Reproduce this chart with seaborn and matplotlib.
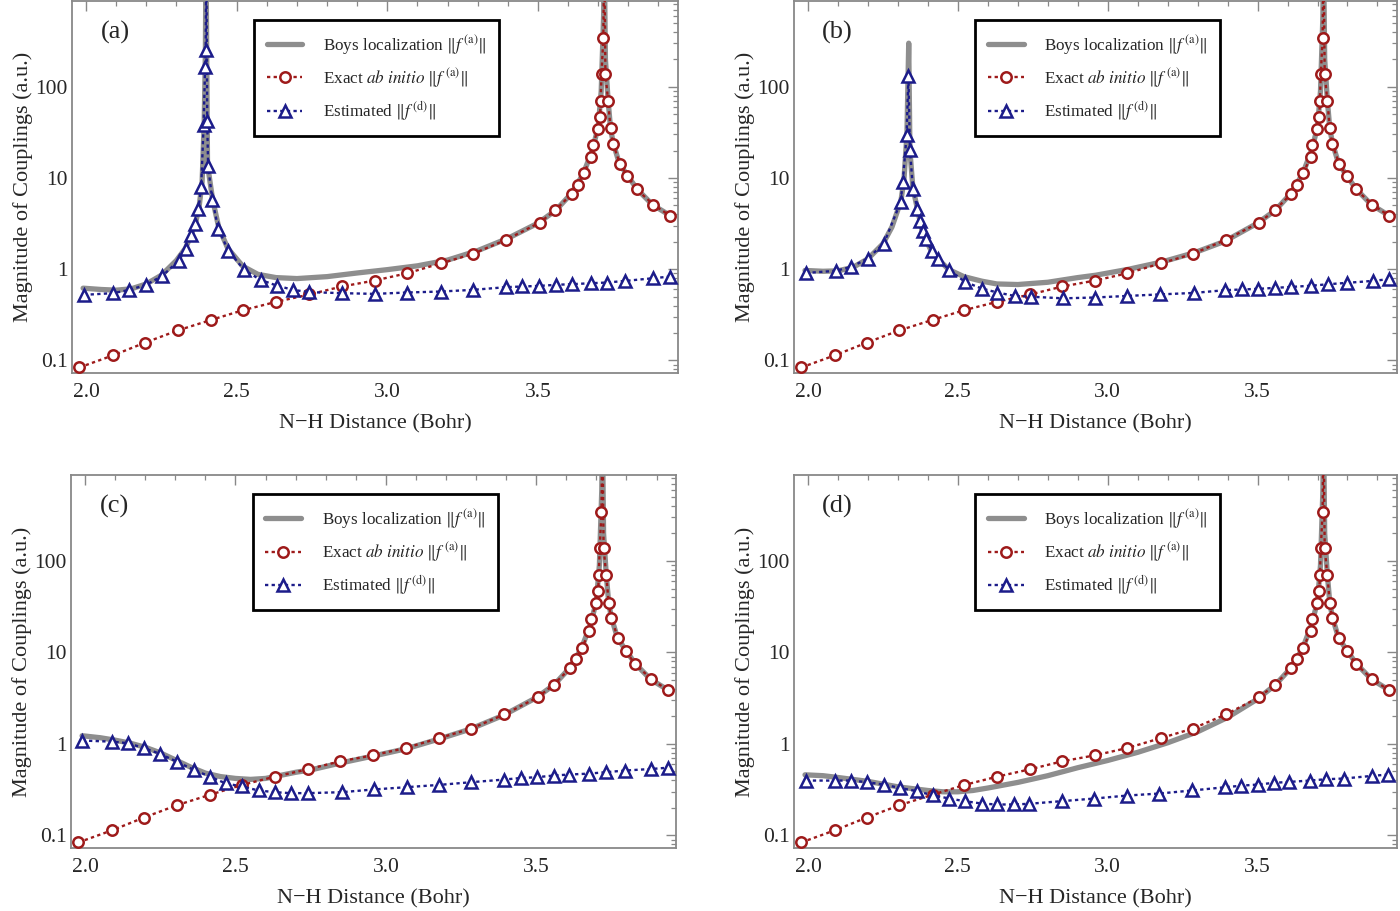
import numpy as np
import pandas as pd
import seaborn as sns
import matplotlib.pyplot as plt
from matplotlib.ticker import MultipleLocator, LogLocator, NullFormatter

# exact ab initio ||f(a)|| (same in every panel)
red_x = [1.978, 2.090, 2.196, 2.305, 2.416, 2.521, 2.632, 2.741, 2.849, 2.958,
         3.066, 3.178, 3.283, 3.394, 3.506, 3.558, 3.613, 3.632, 3.652, 3.677,
         3.683, 3.699, 3.706, 3.708, 3.711, 3.717, 3.720, 3.724, 3.733, 3.741,
         3.749, 3.772, 3.797, 3.828, 3.883, 3.938]
red_y = [0.084, 0.114, 0.157, 0.214, 0.279, 0.356, 0.440, 0.529, 0.647, 0.752,
         0.904, 1.16, 1.47, 2.10, 3.25, 4.45, 6.75, 8.47, 11.2, 17.0,
         23.0, 34.6, 46.5, 69.5, 138, 340, 3000, 138, 69.5, 35,
         23.8, 14.4, 10.5, 7.48, 5.12, 3.86]

# boys localization, right-hand part shared by all panels
gray_tail_x = [3.56, 3.61, 3.65, 3.68, 3.70, 3.71, 3.718, 3.720, 3.724, 3.733,
               3.741, 3.75, 3.77, 3.80, 3.83, 3.88, 3.94]
gray_tail_y = [4.45, 6.7, 11, 20, 36, 90, 600, 3000, 200, 70,
               35, 24, 14.5, 10.3, 7.5, 5.1, 3.85]

# panel (a)
gray_a_x = [1.99, 2.05, 2.10, 2.15, 2.20, 2.25, 2.30, 2.33, 2.35, 2.365, 2.375,
            2.385, 2.392, 2.396, 2.398, 2.403, 2.42, 2.44, 2.47, 2.52, 2.57,
            2.63, 2.70, 2.80, 2.90, 3.00, 3.10, 3.20, 3.30, 3.40, 3.50]
gray_a_y = [0.62, 0.60, 0.59, 0.61, 0.69, 0.86, 1.25, 1.70, 2.45, 3.4, 4.8,
            9.0, 40, 250, 3000, 14, 5.8, 2.9, 1.7, 1.08, 0.88,
            0.81, 0.79, 0.83, 0.91, 0.99, 1.09, 1.26, 1.60, 2.18, 3.2]
blue_a_x = [1.993, 2.090, 2.144, 2.199, 2.253, 2.307, 2.331, 2.349, 2.362, 2.373,
            2.382, 2.390, 2.395, 2.397, 2.399, 2.402, 2.405, 2.419, 2.439, 2.472,
            2.525, 2.579, 2.633, 2.687, 2.741, 2.849, 2.958, 3.066, 3.178, 3.283,
            3.394, 3.448, 3.504, 3.560, 3.612, 3.677, 3.729, 3.789, 3.883, 3.939]
blue_a_y = [0.524, 0.547, 0.594, 0.675, 0.846, 1.24, 1.65, 2.37, 3.13, 4.52,
            8.0, 38, 165, 255, 3000, 42, 13.5, 5.73, 2.76, 1.60,
            0.98, 0.764, 0.662, 0.594, 0.561, 0.547, 0.537, 0.556, 0.570, 0.594,
            0.636, 0.647, 0.657, 0.675, 0.686, 0.703, 0.715, 0.745, 0.797, 0.832]

# panel (b)
gray_b_x = [1.99, 2.05, 2.10, 2.15, 2.20, 2.25, 2.28, 2.31, 2.32, 2.33, 2.336,
            2.34, 2.35, 2.365, 2.38, 2.39, 2.41, 2.435, 2.47, 2.52, 2.58, 2.63,
            2.70, 2.80, 2.90, 2.96, 3.07, 3.18, 3.29, 3.39, 3.50]
gray_b_y = [0.97, 0.95, 0.96, 1.05, 1.30, 1.9, 2.9, 5.6, 9.5, 30, 300,
            20, 7.7, 4.6, 2.7, 2.2, 1.62, 1.28, 0.99, 0.83, 0.74, 0.69,
            0.68, 0.72, 0.81, 0.86, 1.0, 1.2, 1.52, 2.02, 3.2]
blue_b_x = [1.993, 2.092, 2.144, 2.199, 2.253, 2.309, 2.316, 2.329, 2.335, 2.340,
            2.350, 2.365, 2.374, 2.382, 2.393, 2.413, 2.435, 2.471, 2.523, 2.579,
            2.632, 2.689, 2.743, 2.851, 2.957, 3.066, 3.175, 3.287, 3.393, 3.447,
            3.503, 3.558, 3.612, 3.679, 3.735, 3.800, 3.886, 3.940]
blue_b_y = [0.91, 0.96, 1.06, 1.31, 1.91, 5.45, 9.0, 29.6, 132, 20.5,
            7.6, 4.6, 3.35, 2.6, 2.16, 1.57, 1.29, 0.98, 0.73, 0.615,
            0.556, 0.51, 0.50, 0.48, 0.49, 0.51, 0.53, 0.55, 0.59, 0.60,
            0.61, 0.625, 0.64, 0.66, 0.685, 0.71, 0.746, 0.78]

# panel (c)
gray_c_x = [1.99, 2.05, 2.10, 2.15, 2.20, 2.25, 2.30, 2.35, 2.40, 2.45, 2.50,
            2.55, 2.60, 2.63, 2.70, 2.75, 2.85, 2.96, 3.07, 3.18, 3.28, 3.39, 3.50]
gray_c_y = [1.23, 1.17, 1.10, 1.02, 0.92, 0.80, 0.67, 0.56, 0.48, 0.44, 0.42,
            0.41, 0.42, 0.44, 0.49, 0.52, 0.62, 0.74, 0.89, 1.14, 1.45, 2.05, 3.2]
blue_c_x = [1.991, 2.088, 2.143, 2.196, 2.249, 2.305, 2.362, 2.415, 2.468, 2.521,
            2.577, 2.631, 2.684, 2.740, 2.853, 2.959, 3.069, 3.178, 3.284, 3.393,
            3.450, 3.503, 3.558, 3.609, 3.675, 3.731, 3.794, 3.883, 3.938]
blue_c_y = [1.09, 1.06, 1.02, 0.90, 0.78, 0.64, 0.52, 0.44, 0.37, 0.343,
            0.31, 0.297, 0.29, 0.29, 0.297, 0.318, 0.337, 0.357, 0.382, 0.408,
            0.425, 0.433, 0.452, 0.463, 0.474, 0.491, 0.512, 0.533, 0.55]

# panel (d)
gray_d_x = [1.99, 2.05, 2.10, 2.20, 2.30, 2.40, 2.45, 2.50, 2.55, 2.60, 2.70,
            2.80, 2.90, 3.00, 3.10, 3.20, 3.30, 3.40, 3.50]
gray_d_y = [0.46, 0.45, 0.43, 0.39, 0.34, 0.31, 0.30, 0.30, 0.31, 0.33, 0.38,
            0.45, 0.55, 0.66, 0.81, 1.03, 1.36, 1.95, 3.1]
blue_d_x = [1.994, 2.091, 2.145, 2.197, 2.252, 2.306, 2.362, 2.416, 2.472, 2.523,
            2.580, 2.632, 2.687, 2.739, 2.846, 2.954, 3.065, 3.171, 3.281, 3.390,
            3.446, 3.500, 3.555, 3.606, 3.674, 3.730, 3.788, 3.883, 3.935]
blue_d_y = [0.398, 0.398, 0.398, 0.382, 0.36, 0.331, 0.305, 0.275, 0.253, 0.237,
            0.223, 0.218, 0.218, 0.222, 0.237, 0.253, 0.273, 0.287, 0.31, 0.336,
            0.35, 0.36, 0.376, 0.385, 0.398, 0.412, 0.419, 0.448, 0.463]

panel_tags = ["(a)", "(b)", "(c)", "(d)"]
x_ticks = [2.0, 2.5, 3.0, 3.5]
x_ticklabels = ["2.0", "2.5", "3.0", "3.5"]
y_ticks = [0.1, 1, 10, 100]
y_ticklabels = ["0.1", "1", "10", "100"]

lab_gray = r"Boys localization $\|f^{\,(\mathrm{a})}\|$"
lab_red = r"Exact $\mathit{ab\ initio}$ $\|f^{\,(\mathrm{a})}\|$"
lab_blue = r"Estimated $\|f^{\,(\mathrm{d})}\|$"

sns.set_style("white")
plt.rcParams['font.family'] = ['Liberation Serif', 'DejaVu Serif']
plt.rcParams['mathtext.fontset'] = 'stix'

RED = '#9e1a1a'
BLUE = '#1c1c8a'
GRAY = '#8e8e8e'

fig = plt.figure(figsize=(14, 9.11), dpi=100)
rects = [[0.0514, 0.5906, 0.4329, 0.4083],
         [0.5671, 0.5906, 0.4307, 0.4083],
         [0.0507, 0.0692, 0.4322, 0.4094],
         [0.5671, 0.0692, 0.4307, 0.4094]]

grays = [(gray_a_x, gray_a_y), (gray_b_x, gray_b_y), (gray_c_x, gray_c_y), (gray_d_x, gray_d_y)]
blues = [(blue_a_x, blue_a_y), (blue_b_x, blue_b_y), (blue_c_x, blue_c_y), (blue_d_x, blue_d_y)]

for i in range(4):
    ax = fig.add_axes(rects[i])
    gx = grays[i][0] + gray_tail_x
    gy = grays[i][1] + gray_tail_y
    g = pd.DataFrame({'x': gx, 'y': gy})
    r = pd.DataFrame({'x': red_x, 'y': red_y})
    b = pd.DataFrame({'x': blues[i][0], 'y': blues[i][1]})

    sns.lineplot(data=g, x='x', y='y', ax=ax, estimator=None, sort=False,
                 color=GRAY, lw=3.8, label=lab_gray, zorder=2)
    sns.lineplot(data=r, x='x', y='y', ax=ax, estimator=None, sort=False,
                 color=RED, lw=1.7, linestyle=(0, (1.4, 1.4)), marker='o',
                 markersize=7.5, markerfacecolor='white', markeredgecolor=RED,
                 markeredgewidth=1.8, label=lab_red, zorder=3)
    sns.lineplot(data=b, x='x', y='y', ax=ax, estimator=None, sort=False,
                 color=BLUE, lw=1.7, linestyle=(0, (1.4, 1.4)), marker='^',
                 markersize=8, markerfacecolor='white', markeredgecolor=BLUE,
                 markeredgewidth=1.8, label=lab_blue, zorder=4)

    ax.set_yscale('log')
    ax.set_xlim(1.953, 3.965)
    ax.set_ylim(0.073, 870)
    ax.set_xticks(x_ticks)
    ax.set_xticklabels(x_ticklabels)
    ax.set_yticks(y_ticks)
    ax.set_yticklabels(y_ticklabels)
    ax.xaxis.set_minor_locator(MultipleLocator(0.1))
    ax.yaxis.set_minor_locator(LogLocator(base=10, subs=np.arange(2, 10)))
    ax.yaxis.set_minor_formatter(NullFormatter())
    ax.tick_params(which='both', direction='in', top=True, right=True,
                   color='#888888', labelsize=15.5)
    ax.tick_params(which='major', length=7, width=1)
    ax.tick_params(which='minor', length=3.5, width=0.9)
    ax.tick_params(axis='x', pad=7)
    ax.tick_params(axis='y', pad=3)
    for s in ax.spines.values():
        s.set_color('#888888')
        s.set_linewidth(1.3)

    ax.set_xlabel('N\u2212H Distance (Bohr)', fontsize=16, labelpad=9)
    ax.set_ylabel('Magnitude of Couplings (a.u.)', fontsize=16, labelpad=2)
    ax.text(0.072, 0.915, panel_tags[i], transform=ax.transAxes, fontsize=19,
            ha='center', va='center')

    leg = ax.legend(loc='upper left', bbox_to_anchor=(0.30, 0.948), frameon=True,
                    fancybox=False, edgecolor='black', framealpha=1, fontsize=12.3,
                    handlelength=2.1, handletextpad=1.2, labelspacing=0.55,
                    borderpad=0.75, borderaxespad=0)
    leg.get_frame().set_linewidth(2)

fig.savefig('out.png', dpi=100)
